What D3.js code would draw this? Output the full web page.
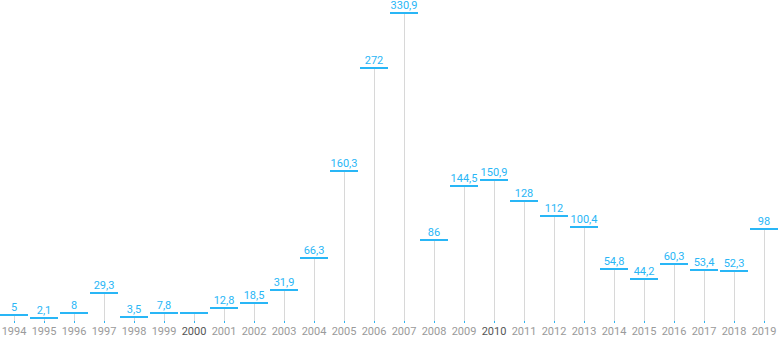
<!DOCTYPE html>
<html>
<head>
<meta charset="utf-8">
<script src="https://cdn.jsdelivr.net/npm/d3@7"></script>
<style>
  html, body { margin: 0; padding: 0; background: #fff; }
  svg { display: block; font-family: Roboto, "Noto Sans", sans-serif; }
</style>
</head>
<body>
<svg id="chart" width="778" height="338"></svg>
<script>
// Yearly values, 1994–2019
const years = [1994, 1995, 1996, 1997, 1998, 1999, 2000, 2001, 2002, 2003, 2004, 2005, 2006,
               2007, 2008, 2009, 2010, 2011, 2012, 2013, 2014, 2015, 2016, 2017, 2018, 2019];
const values = [5, 2.1, 8, 29.3, 3.5, 7.8, 7.8, 12.8, 18.5, 31.9, 66.3, 160.3, 272,
                330.9, 86, 144.5, 150.9, 128, 112, 100.4, 54.8, 44.2, 60.3, 53.4, 52.3, 98];
// Years whose value label is not shown
const unlabeledYears = [2000];
// Years emphasised on the axis
const highlightYears = [2000, 2010];

const blue = "#29b6f6";
const svg = d3.select("#chart");

const x = d3.scaleBand().domain(years).range([0, 780]).padding(0);
const barW = x.bandwidth() - 2;
const y = d3.scaleLinear().domain([0, d3.max(values)]).range([320, 13]);
const baseY = 321;

const rows = years.map((yr, i) => ({ year: yr, value: values[i] }));
const fmt = v => String(v).replace(".", ",");

// thin stems from the axis up to each value
svg.append("g").selectAll("line")
  .data(rows).join("line")
  .attr("x1", d => x(d.year) + barW / 2 + 0.5)
  .attr("x2", d => x(d.year) + barW / 2 + 0.5)
  .attr("y1", d => y(d.value))
  .attr("y2", baseY)
  .attr("stroke", "#d8d8d8")
  .attr("stroke-width", 1);

// small blue ticks at the foot of each stem
svg.append("g").selectAll("line")
  .data(rows).join("line")
  .attr("x1", d => x(d.year) + barW / 2 + 0.5)
  .attr("x2", d => x(d.year) + barW / 2 + 0.5)
  .attr("y1", baseY)
  .attr("y2", baseY + 2)
  .attr("stroke", blue)
  .attr("stroke-width", 1);

// horizontal value markers
svg.append("g").selectAll("rect")
  .data(rows).join("rect")
  .attr("x", d => x(d.year))
  .attr("y", d => Math.round(y(d.value)) - 1)
  .attr("width", barW)
  .attr("height", 2)
  .attr("fill", blue);

// value labels
svg.append("g").selectAll("text")
  .data(rows.filter(d => !unlabeledYears.includes(d.year))).join("text")
  .attr("x", d => x(d.year) + barW / 2)
  .attr("y", d => Math.round(y(d.value)) - 4)
  .attr("text-anchor", "middle")
  .attr("font-size", 11)
  .attr("fill", blue)
  .text(d => fmt(d.value));

// year axis
const axis = d3.axisBottom(x).tickSize(0).tickPadding(0);
const gAxis = svg.append("g").attr("transform", "translate(-1, 327)").call(axis);
gAxis.select(".domain").remove();
gAxis.selectAll("text")
  .attr("font-family", "Roboto, 'Noto Sans', sans-serif")
  .attr("font-size", 11)
  .attr("dy", "0.71em")
  .attr("fill", d => highlightYears.includes(d) ? "#555" : "#9a9a9a");
</script>
</body>
</html>
